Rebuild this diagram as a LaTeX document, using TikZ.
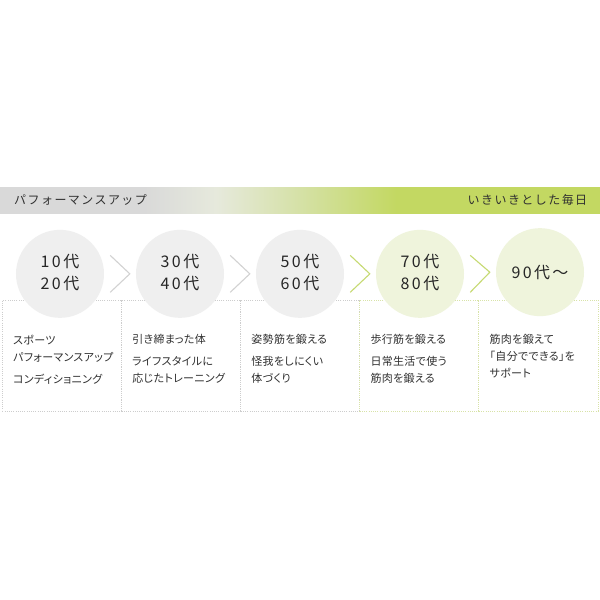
\documentclass[tikz,border=0pt]{standalone}
\usepackage{fontspec}
\setmainfont{Noto Sans CJK JP}
\newfontfamily\barfont[LetterSpace=12]{Noto Sans CJK JP}
\newfontfamily\agefont[LetterSpace=15]{Noto Sans CJK JP}
\newfontfamily\bodyfont[RawFeature=+palt,LetterSpace=3]{Noto Sans CJK JP}
\usetikzlibrary{matrix,positioning}
\definecolor{agegrey}{HTML}{EFEFEF}
\definecolor{agegreen}{HTML}{EFF4DC}
\definecolor{chevgrey}{HTML}{D2D2D2}
\definecolor{chevgreen}{HTML}{C6DA72}
\definecolor{linegrey}{HTML}{CDCDCD}
\definecolor{linegreen}{HTML}{D8E3A8}
\definecolor{bargrey}{HTML}{D9D9D9}
\definecolor{barlight}{HTML}{E6E9DC}
\definecolor{barmid}{HTML}{D5E1A6}
\definecolor{bargreen}{HTML}{C3D862}
\definecolor{inktext}{HTML}{303030}
\pgfdeclarehorizontalshading{barshade}{100bp}{color(0bp)=(bargrey); color(37bp)=(bargrey); color(43bp)=(barlight); color(50bp)=(barmid); color(58bp)=(bargreen); color(100bp)=(bargreen)}
\newcommand\agepair[2]{\begin{tabular}{@{}c@{}}#1\\#2\end{tabular}}
\tikzset{
  greenage/.style={fill=agegreen},
  agebox/.style={rectangle, minimum width=119.1bp, minimum height=111bp, inner sep=0pt, line width=1bp, dash pattern=on 1bp off 1.2bp},
  agetext/.style={anchor=north west, inner sep=0pt, align=left, text=inktext, font=\bodyfont\fontsize{11bp}{17bp}\selectfont},
  barlabel/.style={inner sep=0pt, text=inktext, font=\barfont\fontsize{12bp}{14bp}\selectfont}
}
\def\AgeCircles{
    \matrix (ages)
    [matrix of nodes,
    ampersand replacement=\&,
    column sep={32bp},
    nodes={circle, minimum size=88bp, inner sep=0pt, fill=agegrey, text=black!85,
      font=\agefont\fontsize{16bp}{22bp}\selectfont}]
    at (300,273)
    {
     \agepair{10代}{20代} \& \agepair{30代}{40代} \& \agepair{50代}{60代} \& |[greenage]| \agepair{70代}{80代} \& |[greenage]| 90代〜 \\
};
}

\begin{document}
\begin{tikzpicture}[x=1bp,y=-1bp]
    \useasboundingbox[fill=white] (0,0) rectangle (600,600);
    % banner
    \node[shading=barshade, minimum width=600bp, minimum height=26bp, inner sep=0pt, anchor=north west] (bar) at (0,187) {};
    \node[barlabel, anchor=west] (barleft) at ([xshift=14bp]bar.west) {パフォーマンスアップ};
    \node[barlabel, anchor=east] (barright) at ([xshift=-13bp]bar.east) {いきいきとした毎日};
    % boxes under the circles
    \foreach \i/\c in {1/linegrey,2/linegrey,3/linegrey,4/linegreen,5/linegreen}
      \node[agebox, draw=\c] (box\i) at ({62.05+119.1*(\i-1)},355.5) {};
    \node[agetext] (text1) at ([xshift=11bp,yshift=-35bp]box1.north west) {スポーツ\\パフォーマンスアップ\\[5bp]コンディショニング};
    \node[agetext] (text2) at ([xshift=11bp,yshift=-35bp]box2.north west) {引き締まった体\\[5bp]ライフスタイルに\\応じたトレーニング};
    \node[agetext] (text3) at ([xshift=11bp,yshift=-35bp]box3.north west) {姿勢筋を鍛える\\[5bp]怪我をしにくい\\体づくり};
    \node[agetext] (text4) at ([xshift=11bp,yshift=-35bp]box4.north west) {歩行筋を鍛える\\[5bp]日常生活で使う\\筋肉を鍛える};
    \node[agetext] (text5) at ([xshift=11bp,yshift=-35bp]box5.north west) {筋肉を鍛えて\\「自分でできる」を\\サポート};
    \AgeCircles
    % chevrons
    \foreach \a/\b/\c in {1/2/chevgrey,2/3/chevgrey,3/4/chevgreen,4/5/chevgreen}
      \draw[\c, line width=1.1bp] ([xshift=6bp,yshift=18.5bp]ages-1-\a.east) -- ([xshift=-6bp]ages-1-\b.west) -- ([xshift=6bp,yshift=-18.5bp]ages-1-\a.east);
\end{tikzpicture}
\end{document}
